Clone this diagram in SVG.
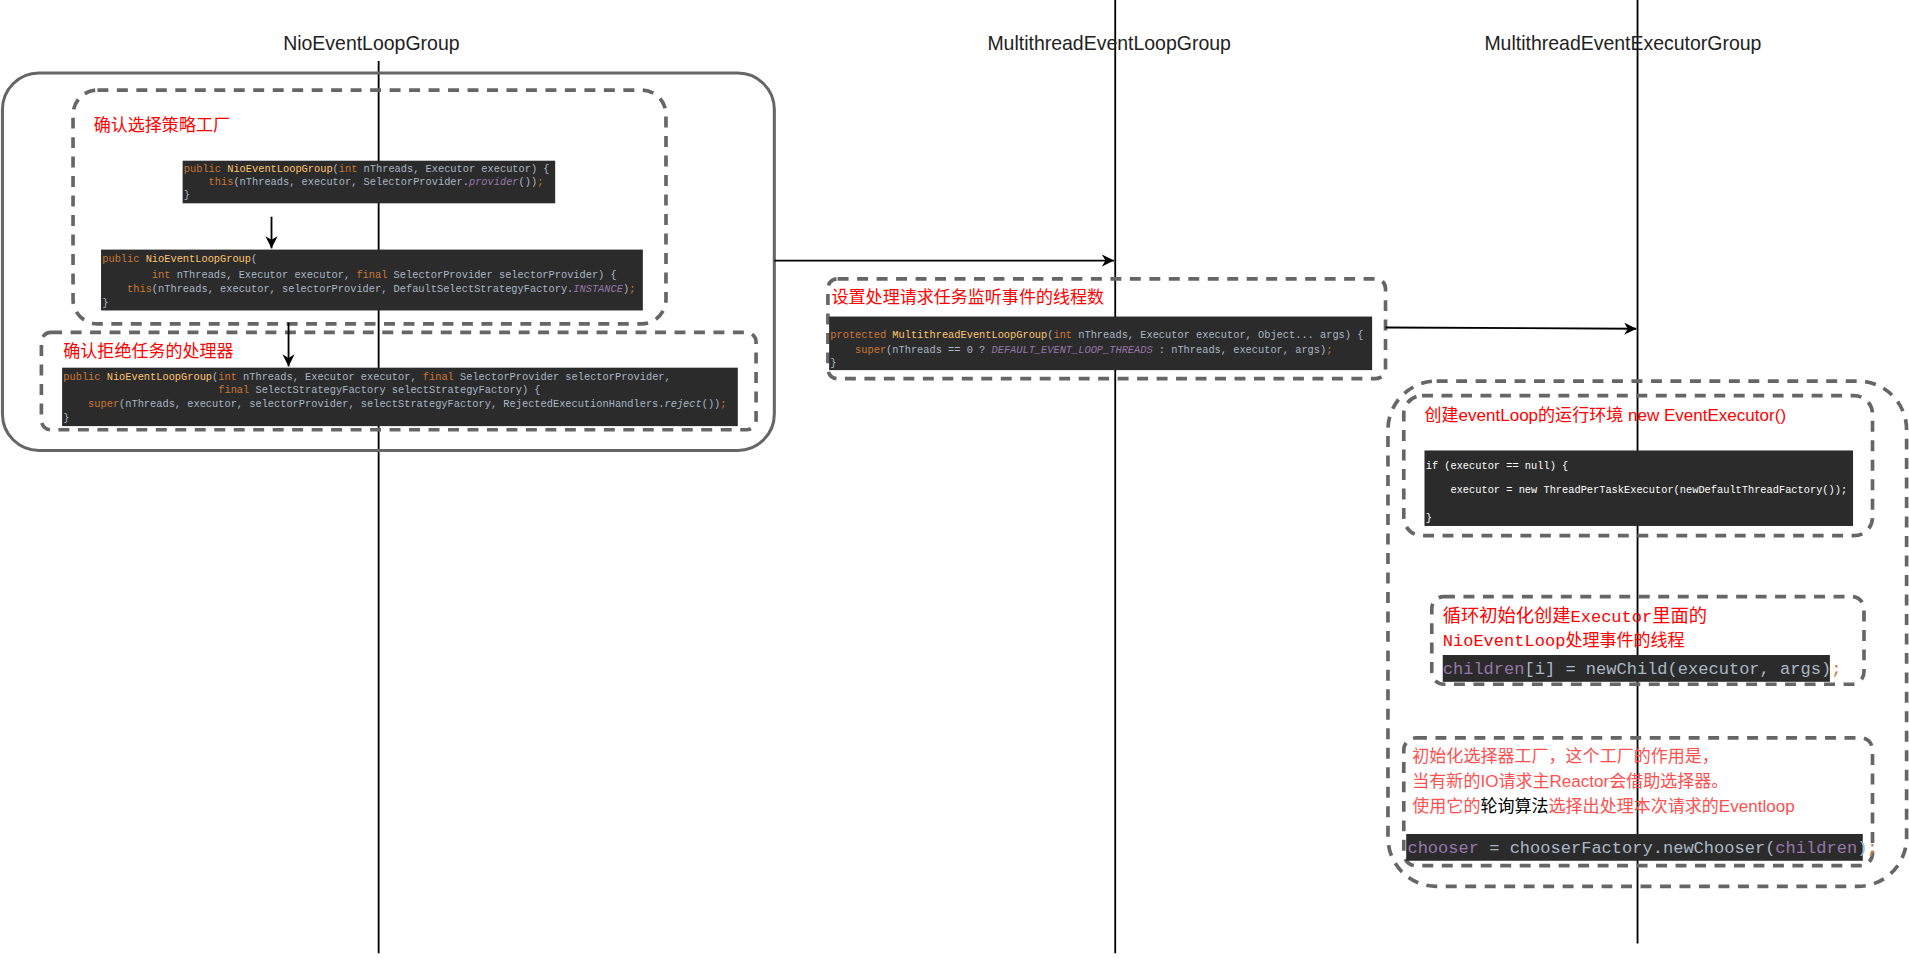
<svg xmlns="http://www.w3.org/2000/svg" width="1909" height="958" viewBox="0 0 1909 958">
<defs>
<marker id="ah" viewBox="0 0 10 10" refX="10" refY="5" markerWidth="10" markerHeight="10" markerUnits="userSpaceOnUse" orient="auto"><path d="M0,0 L10,5 L0,10 L3,5 z" fill="#000"/></marker>
<style>
.t{font-family:"Liberation Sans",Arial,sans-serif;font-size:16px;fill:#222}
.lbl{font-family:"Liberation Sans","Noto Sans CJK SC",sans-serif;font-size:14px;fill:#ff0000}
.dash{fill:none;stroke:#666;stroke-width:3;stroke-dasharray:9,7}
.code{fill:#2b2b2b}
.c{font-family:"Liberation Mono",monospace;font-size:8.5px;fill:#a9b7c6;white-space:pre}
.k{fill:#cc7832}.m{fill:#ffc66d}.i{fill:#9876aa;font-style:italic}.w{fill:#fff}
.cb{font-family:"Liberation Mono",monospace;font-size:14px;fill:#a9b7c6;white-space:pre}
.life{stroke:#000;stroke-width:1.5}
</style>
</defs>
<rect width="1909" height="958" fill="#fff"/>
<g transform="scale(1.2175)">
<g id="lifelines">
<line class="life" x1="311" y1="50" x2="311" y2="783"/>
<line class="life" x1="916" y1="0" x2="916" y2="783"/>
<line class="life" x1="1345" y1="0" x2="1345" y2="775"/>
<text class="t" x="305" y="41" text-anchor="middle">NioEventLoopGroup</text>
<text class="t" x="911" y="41" text-anchor="middle">MultithreadEventLoopGroup</text>
<text class="t" x="1333" y="41" text-anchor="middle">MultithreadEventExecutorGroup</text>
</g>
<g id="nio">
<rect x="2" y="60" width="634" height="310" rx="30" fill="none" stroke="#666" stroke-width="2.5"/>
<rect class="dash" x="60" y="74" width="487" height="192" rx="20"/>
<text class="lbl" x="77" y="108">确认选择策略工厂</text>
<rect class="code" x="150" y="132" width="306" height="35"/>
<text class="c" x="151" y="141"><tspan class="k">public </tspan><tspan class="m">NioEventLoopGroup</tspan>(<tspan class="k">int </tspan>nThreads, Executor executor) {</text>
<text class="c" x="151" y="152"><tspan class="k">    this</tspan>(nThreads, executor, SelectorProvider.<tspan class="i">provider</tspan>())<tspan class="k">;</tspan></text>
<text class="c" x="151" y="163">}</text>
<rect class="code" x="83" y="205" width="445" height="50"/>
<text class="c" x="84" y="215"><tspan class="k">public </tspan><tspan class="m">NioEventLoopGroup</tspan>(</text>
<text class="c" x="84" y="228">        <tspan class="k">int </tspan>nThreads, Executor executor, <tspan class="k">final </tspan>SelectorProvider selectorProvider) {</text>
<text class="c" x="84" y="240"><tspan class="k">    this</tspan>(nThreads, executor, selectorProvider, DefaultSelectStrategyFactory.<tspan class="i">INSTANCE</tspan>)<tspan class="k">;</tspan></text>
<text class="c" x="84" y="251">}</text>
<rect class="dash" x="34" y="273" width="587" height="80" rx="8"/>
<text class="lbl" x="52" y="293">确认拒绝任务的处理器</text>
<rect class="code" x="51" y="302" width="555" height="48"/>
<text class="c" x="52" y="312"><tspan class="k">public </tspan><tspan class="m">NioEventLoopGroup</tspan>(<tspan class="k">int </tspan>nThreads, Executor executor, <tspan class="k">final </tspan>SelectorProvider selectorProvider,</text>
<text class="c" x="52" y="323">                         <tspan class="k">final </tspan>SelectStrategyFactory selectStrategyFactory) {</text>
<text class="c" x="52" y="334"><tspan class="k">    super</tspan>(nThreads, executor, selectorProvider, selectStrategyFactory, RejectedExecutionHandlers.<tspan class="i" style="fill:#a9b7c6">reject</tspan>())<tspan class="k">;</tspan></text>
<text class="c" x="52" y="346">}</text>
</g>
<g id="multiloop">
<rect class="dash" x="680" y="229" width="458" height="82" rx="8"/>
<text class="lbl" x="683" y="249">设置处理请求任务监听事件的线程数</text>
<rect class="code" x="681" y="260" width="446" height="44"/>
<text class="c" x="682" y="278"><tspan class="k">protected </tspan><tspan class="m">MultithreadEventLoopGroup</tspan>(<tspan class="k">int </tspan>nThreads, Executor executor, Object... args) {</text>
<text class="c" x="682" y="290"><tspan class="k">    super</tspan>(nThreads == 0 ? <tspan class="i">DEFAULT_EVENT_LOOP_THREADS </tspan>: nThreads, executor, args)<tspan class="k">;</tspan></text>
<text class="c" x="682" y="301">}</text>
</g>
<g id="executor">
<rect class="dash" x="1140" y="313" width="426" height="415" rx="40"/>
<rect class="dash" x="1153" y="325" width="385" height="115" rx="15"/>
<text class="lbl" x="1170" y="346">创建eventLoop的运行环境 new EventExecutor()</text>
<rect class="code" x="1170" y="370" width="352" height="62"/>
<text class="c w" x="1171" y="385">if (executor == null) {</text>
<text class="c w" x="1171" y="405">    executor = new ThreadPerTaskExecutor(newDefaultThreadFactory());</text>
<text class="c w" x="1171" y="428">}</text>
<rect class="dash" x="1176" y="490" width="355" height="72" rx="10"/>
<text class="lbl" x="1185" y="511" style="font-size:15px">循环初始化创建<tspan style="font-family:'Liberation Mono',monospace;font-size:14px">Executor</tspan>里面的</text>
<text class="lbl" x="1185" y="531" style="font-family:'Liberation Mono','Noto Sans CJK SC',monospace">NioEventLoop处理事件的线程</text>
<rect class="code" x="1185" y="538" width="318" height="22"/>
<text class="cb" x="1185" y="554"><tspan class="i" style="font-style:normal">children</tspan>[i] = newChild(executor, args)<tspan class="k">;</tspan></text>
<rect class="dash" x="1153" y="606" width="385" height="105" rx="10"/>
<text class="lbl" x="1160" y="626" style="fill:#ff5050">初始化选择器工厂，这个工厂的作用是，</text>
<text class="lbl" x="1160" y="646" style="fill:#ff5050">当有新的IO请求主Reactor会借助选择器。</text>
<text class="lbl" x="1160" y="667" style="fill:#ff5050">使用它的<tspan style="fill:#000">轮询算法</tspan>选择出处理本次请求的Eventloop</text>
<rect class="code" x="1155" y="685" width="375" height="22"/>
<text class="cb" x="1156" y="701"><tspan class="i" style="font-style:normal">chooser </tspan>= chooserFactory.newChooser(<tspan class="i" style="font-style:normal">children</tspan>)<tspan class="k">;</tspan></text>
</g>
<g id="connectors" stroke="#000" stroke-width="1.5" fill="none">
<line x1="223" y1="178" x2="223" y2="204" marker-end="url(#ah)"/>
<line x1="237" y1="265" x2="237" y2="301" marker-end="url(#ah)"/>
<line x1="636" y1="214" x2="915" y2="214" marker-end="url(#ah)"/>
<line x1="1138" y1="269" x2="1344" y2="270" marker-end="url(#ah)"/>
</g>
</g>
</svg>
